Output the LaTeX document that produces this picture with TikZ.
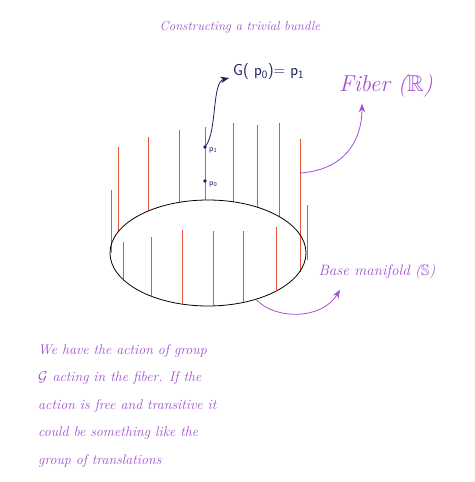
\documentclass[tikz,border=0pt]{standalone}
\usepackage{amsmath,amssymb}
\usepackage{xcolor}
\usetikzlibrary{shapes.geometric, arrows.meta, positioning, calc}
\definecolor{lila}{RGB}{160,80,210}
\definecolor{navy}{RGB}{25,30,95}
\definecolor{fibred}{RGB}{232,85,55}

\begin{document}
\begin{tikzpicture}[x=1pt, y=-1pt, every node/.style={inner sep=0pt}]
    \useasboundingbox (0,0) rectangle (474,482);
    \node (title) at (240,27) [text=lila, font=\itshape\fontsize{13}{15}\selectfont] {Constructing a trivial bundle};

    \foreach \x/\ya/\yb in {111/190/253, 118/147/232, 148/137/211, 179/130/202, 205/127/200, 233/123/202, 257/125/207, 279/123/216, 300/139/272, 307/205/260}
        \draw [fibred, line width=0.9pt] (\x,\ya) -- (\x,\yb);
    \node (base) [ellipse, draw, thick, minimum width=196pt, minimum height=106pt] at (208,253) {};
    \foreach \x/\ya/\yb in {123/242/279, 151/237/296, 182/230/304, 213/231/306, 243/231/302, 276/227/291}
        \draw [fibred, line width=0.9pt] (\x,\ya) -- (\x,\yb);

    \node (p1) [circle, fill=navy, inner sep=1.3pt] at (205,147) {};
    \node (p0) [circle, fill=navy, inner sep=1.3pt] at (205,181) {};
    \node [right=2pt of p1, yshift=-3pt, text=navy, font=\sffamily\fontsize{8}{9}\selectfont] {p\textsubscript{1}};
    \node [right=2pt of p0, yshift=-3pt, text=navy, font=\sffamily\fontsize{8}{9}\selectfont] {p\textsubscript{0}};
    \node (gact) [anchor=west, text=navy, font=\sffamily\fontsize{16}{18}\selectfont] at (233,72) {G( p\textsubscript{0})= p\textsubscript{1}};
    \draw [-{Stealth[scale=1.3]}, thick, navy] (p1) .. controls (217,130) and (212,82) .. ([xshift=-4pt, yshift=-6pt]gact.west);

    \node (fiber) [text=lila, font=\itshape\fontsize{23}{25}\selectfont] at (386,86) {Fiber ($\mathbb{R}$)};
    \coordinate (fibpt) at (300,173);
    \draw [-{Stealth[scale=1.3]}, thick, lila] (fibpt) .. controls (345,170) and (362,140) .. ([xshift=-24pt, yshift=-6pt]fiber.south);

    \node (basel) [text=lila, font=\itshape\fontsize{15}{17}\selectfont] at (377,272) {Base manifold ($\mathbb{S}$)};
    \draw [-{Stealth[scale=1.3]}, thick, lila] (base.-44) .. controls (275,320) and (322,320) .. ([xshift=-37pt, yshift=-10pt]basel.south);

    \node (note) [anchor=north west, align=left, text=lila, font=\itshape\fontsize{14}{27.5}\selectfont] at (38,344) {We have the action of group\\$\mathcal{G}$ acting in the fiber. If the\\action is free and transitive it\\could be something like the\\group of translations};
\end{tikzpicture}
\end{document}
